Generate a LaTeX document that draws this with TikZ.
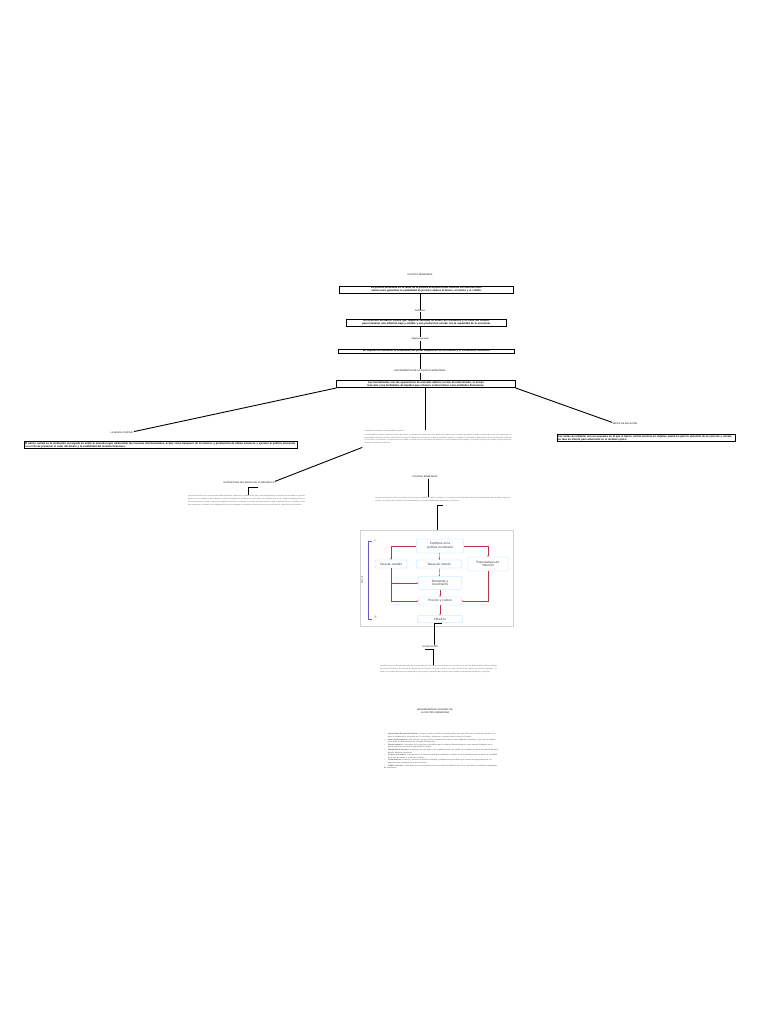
\documentclass[tikz,border=0pt]{standalone}
\usepackage{fontspec}
\setmainfont{Liberation Sans}
\usetikzlibrary{positioning,calc,arrows.meta}

\definecolor{rojoflecha}{RGB}{185,55,75}
\definecolor{azuleje}{RGB}{110,90,190}

\tikzset{
    caja/.style={draw, line width=0.7pt, inner sep=0.8pt, align=center, font=\bfseries\fontsize{2.6}{3.2}\selectfont},
    titulo/.style={inner sep=0.4pt, font=\fontsize{2.3}{2.8}\selectfont},
    parrafo/.style={inner sep=0pt, align=justify, text=black!55, font=\fontsize{1.9}{2.9}\selectfont},
    paso/.style={draw=cyan!35, rounded corners=1.2pt, fill=white, align=center, text=black!75, inner sep=0.5pt, font=\fontsize{3.2}{3.7}\selectfont},
    flecha/.style={draw=rojoflecha, line width=0.35pt, -{Stealth[length=1.6pt,width=1.4pt]}},
    linea/.style={line width=0.9pt},
}
\newcommand{\vineta}[1]{\par\noindent\hangindent=4pt\hangafter=1\makebox[4pt][l]{\textbullet}#1}

\begin{document}
\begin{tikzpicture}[x=1pt, y=-1pt]
    \fill[white] (0,0) rectangle (768,1024);
    \useasboundingbox (0,0) rectangle (768,1024);

    % cadena central
    \node[titulo] (pm) at (420,275) {POLÍTICA MONETARIA};
    \node[caja, text width=172pt] (def) at (426.5,289.5) {La política monetaria es la rama de la política económica que controla los factores monetarios para garantizar la estabilidad de precios; abarca el dinero, el interés y el crédito.};
    \node[titulo] (defl) at (420,311) {Definición};
    \node[caja, text width=158pt] (defc) at (426.5,322.5) {Es la acción del banco central que regula la cantidad de dinero en circulación y el costo del crédito, para mantener una inflación baja y estable y una producción acorde con la capacidad de la economía.};
    \node[titulo] (objl) at (420,339) {Objetivo general};
    \node[caja, text width=174pt] (obj) at (426.5,351) {Su objetivo es mantener la estabilidad del poder adquisitivo de la moneda y el crecimiento sostenido.};
    \node[titulo] (insl) at (420,371) {INSTRUMENTOS DE LA POLÍTICA MONETARIA};
    \node[caja, text width=177pt] (ins) at (426,384) {Las herramientas son las operaciones de mercado abierto, la tasa de intervención, el encaje bancario y las facilidades de liquidez que el banco central ofrece a las entidades financieras.};

    \draw[linea] (def.south -| defl) -- (defl);
    \draw[linea] (defl) -- (defc.north -| defl);
    \draw[linea] (defc.south -| objl) -- (objl);
    \draw[linea] (objl) -- (obj.north -| objl);
    \draw[linea] (obj.south -| insl) -- (insl);
    \draw[linea] (insl) -- (ins.north -| insl);

    % ramas
    \node[titulo] (bcl) at (122,433) {LA BANCA CENTRAL};
    \node[caja, text width=272pt, align=left] (bc) at (161,445) {El banco central es la institución encargada de emitir la moneda legal, administrar las reservas internacionales, actuar como banquero de los bancos y prestamista de última instancia, y ejecutar la política monetaria con el fin de preservar el valor del dinero y la estabilidad del sistema financiero.};
    \node[titulo] (mtl) at (625,424) {METAS DE INFLACIÓN};
    \node[caja, text width=177pt, align=left] (mt) at (646.5,438) {Las metas de inflación son un esquema en el que el banco central anuncia un objetivo numérico para la variación de los precios y orienta su tasa de interés para alcanzarlo en el mediano plazo.};
    \node[parrafo, text width=147pt, anchor=north] (pe) at (438,430) {La política monetaria y la estabilidad de precios\par\vspace{0.6pt}La autoridad monetaria controla la oferta de dinero y las tasas de interés de corto plazo para influir sobre el gasto agregado; cuando la demanda crece más rápido que la capacidad productiva, el banco central eleva la tasa de referencia, encarece el crédito y modera la inflación, y cuando la economía se desacelera reduce la tasa para estimular el consumo y la inversión. Las decisiones se toman con base en los pronósticos de inflación, el comportamiento del empleo, la evolución del tipo de cambio y las condiciones financieras internas y externas.};

    \draw[linea] (ins.south west) -- (bcl.north east);
    \draw[linea] (ins.south east) -- (mtl.north west);
    \draw[linea] (ins.south -| 425,0) -- (pe.north -| 425,0);

    % estructura del banco
    \node[titulo] (esl) at (249,483) {ESTRUCTURA DEL BANCO DE LA REPÚBLICA};
    \node[parrafo, text width=117pt, anchor=north, font=\fontsize{1.9}{3.1}\selectfont] (es) at (246.5,495) {La junta directiva es la máxima autoridad monetaria, cambiaria y crediticia del país; está integrada por el ministro de hacienda, el gerente general y cinco miembros de dedicación exclusiva elegidos por periodos de cuatro años, prorrogables dos veces. El gerente general ejecuta las decisiones de la junta y representa legalmente al banco, mientras el consejo de administración vigila la gestión interna, el auditor revisa las cuentas de la entidad y las subgerencias técnicas preparan los estudios económicos que sirven de base a cada decisión de política.};
    \draw[linea] (pe.south west) ++(-2,3) -- (esl.north east);
    \coordinate (e1) at (258,487);
    \draw[linea] (e1) -| (es.north -| 248,0);

    % politica y esquema de transmision
    \node[titulo] (pml) at (425,477) {POLÍTICA MONETARIA};
    \node[parrafo, text width=135pt, anchor=north] (pmt) at (442.5,496.5) {La transmisión de la política monetaria es el proceso mediante el cual los cambios en la tasa de interés de intervención afectan las tasas del mercado, el tipo de cambio, los precios de los activos y las expectativas, y con ellos la demanda agregada y la inflación.};
    \draw[linea] (pml.south -| 428,0) -- (pmt.north -| 428,0);
    \coordinate (e2) at (443,505);
    \draw[linea] (e2) -| (437,530);

    \draw[gray!35, line width=0.5pt] (360,530) rectangle (513,626);
    \node[paso, minimum width=47pt, minimum height=14pt] (camb) at (440,546) {Cambios en la\\política monetaria};
    \node[paso, minimum width=32pt, minimum height=8pt] (tcam) at (391,564) {Tasa de cambio};
    \node[paso, minimum width=45pt, minimum height=8pt] (tint) at (439,564) {Tasas de interés};
    \node[paso, minimum width=40pt, minimum height=14pt] (expe) at (488,564) {Expectativas de\\inflación};
    \node[paso, minimum width=43pt, minimum height=13pt] (dem) at (440,583) {Demanda y\\crecimiento};
    \node[paso, minimum width=43pt, minimum height=8pt] (prec) at (440,601) {Precios y costos};
    \node[paso, minimum width=45pt, minimum height=7pt] (infl) at (440,619) {Inflación};

    \draw[flecha] (camb.west) -| (tcam.north);
    \draw[flecha] (camb) -- (tint);
    \draw[flecha] (camb.east) -| (expe.north);
    \draw[flecha] (tint) -- (dem);
    \draw[flecha] (dem) -- (prec);
    \draw[flecha] (prec) -- (infl);
    \draw[flecha] (tcam.south) |- (prec.west);
    \coordinate (ram) at (tcam.south |- dem.west);
    \draw[flecha] (ram) -- (dem.west);
    \draw[flecha] (expe.south) |- (prec.east);

    % eje de meses
    \coordinate (m0) at (368,541);
    \coordinate (m1) at (368,619);
    \draw[azuleje, line width=0.5pt] ($(m0)+(4,0)$) -- (m0) -- (m1) -- ($(m1)+(4,0)$);
    \node[rotate=90, text=black!60, font=\fontsize{2.6}{3}\selectfont, inner sep=0pt] (ms) at (362,580) {Meses};
    \node[rotate=90, text=black!60, font=\fontsize{2.6}{3}\selectfont, inner sep=0pt] (n0) at (375.5,541) {0};
    \node[rotate=90, text=black!60, font=\fontsize{2.6}{3}\selectfont, inner sep=0pt] (n24) at (375.5,617) {24};

    % inflacion
    \node[titulo] (infll) at (430,647) {LA INFLACIÓN};
    \node[parrafo, text width=117pt, anchor=north] (inft) at (438.5,665) {La inflación es el aumento generalizado y sostenido del nivel de precios de bienes y servicios en un periodo determinado; reduce el poder de compra del dinero, distorsiona las decisiones de ahorro e inversión y afecta con mayor fuerza a los hogares de menores ingresos. Se mide con el índice de precios al consumidor, que recoge la variación del costo de una canasta representativa de bienes y servicios.};
    \coordinate (e3) at (442,623);
    \draw[linea] (e3) -| (infll.north -| 434,0);
    \coordinate (e4) at (425,649);
    \draw[linea] (e4) -| (inft.north -| 433,0);

    % mecanismos
    \node[titulo, align=center] (mcl) at (435,711) {MECANISMOS DE CONTROL DE\\LA POLÍTICA MONETARIA};
    \node[parrafo, text width=114pt, anchor=north, align=left, text=black!65, font=\fontsize{1.9}{2.6}\selectfont] (mc) at (441,732) {%
        \vineta{\textbf{Operaciones de mercado abierto:} compra y venta de títulos de deuda pública por parte del banco central para ampliar o reducir la liquidez de la economía en el corto plazo y mantener la tasa de interés cerca de la meta.}
        \vineta{\textbf{Tasa de intervención:} tasa mínima a la que el banco central presta dinero a las entidades financieras y que sirve de referencia a todas las demás tasas del mercado interbancario.}
        \vineta{\textbf{Encaje bancario:} porcentaje de los depósitos del público que los bancos deben mantener como reserva obligatoria en el banco central y que limita su capacidad de prestar.}
        \vineta{\textbf{Ventanillas de liquidez:} préstamos de corto plazo a los establecimientos de crédito con respaldo de títulos de alta calidad para atender faltantes transitorios.}
        \vineta{\textbf{Control de cambios:} intervención en el mercado de divisas mediante la compra o venta de dólares para moderar la volatilidad de la tasa de cambio y acumular reservas.}
        \vineta{\textbf{Comunicación:} anuncios, informes de política monetaria y publicaciones periódicas que orientan las expectativas de los agentes y dan transparencia a las decisiones.}
        \vineta{\textbf{Crédito selectivo:} orientación de recursos hacia sectores productivos definidos por la ley, con plazos y condiciones especiales de financiación.}};
\end{tikzpicture}
\end{document}
